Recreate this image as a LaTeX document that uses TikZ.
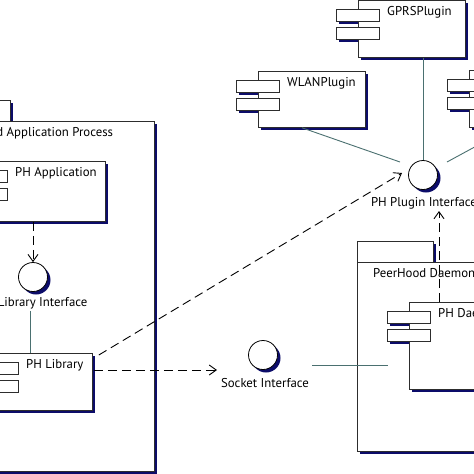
\documentclass[tikz,border=0pt]{standalone}
\usepackage{fontspec}
\setmainfont{PT Sans}
\usetikzlibrary{arrows.meta,shadows,calc}
\definecolor{navyc}{RGB}{12,12,105}
\definecolor{linkc}{RGB}{74,112,112}
\definecolor{edgec}{RGB}{45,45,45}
\tikzset{
  shad/.style={drop shadow={shadow xshift=3pt,shadow yshift=-3pt,fill=navyc,opacity=1}},
  compbox/.style={rectangle,draw=edgec,fill=white,line width=0.8pt,inner sep=0pt,anchor=north west,shad},
  pkgbox/.style={rectangle,draw=edgec,fill=white,line width=0.8pt,inner sep=0pt,anchor=north west,shad},
  portbox/.style={rectangle,draw=edgec,fill=white,line width=0.8pt,inner sep=0pt,anchor=north west,minimum width=43pt,minimum height=12pt},
  iface/.style={circle,draw=black,fill=white,line width=0.8pt,inner sep=0pt,minimum size=29pt,shad},
  lbl/.style={inner sep=0pt,anchor=base west,font=\fontsize{12.8}{15}\selectfont},
  clbl/.style={inner sep=0pt,anchor=base,font=\fontsize{12.8}{15}\selectfont},
  dep/.style={draw=black,line width=0.9pt,dash pattern=on 9pt off 5pt,-{Straight Barb[length=7pt,width=10pt]}},
  link/.style={draw=linkc,line width=0.9pt}
}
\newcommand\phcomp[6]{%
  \fill[navyc] (#2-19,#3+12) rectangle (#2+24,#3+24);
  \fill[navyc] (#2-19,#3+30) rectangle (#2+24,#3+42);
  \node[compbox,minimum width=#4pt,minimum height=#5pt] (#1) at (#2,#3) {};
  \node[portbox] (#1-p1) at (#2-22,#3+9) {};
  \node[portbox] (#1-p2) at (#2-22,#3+27) {};
  \node[lbl] (#1-l) at (#2+29,#3+15) {#6};
}
\newcommand\phpkg[6]{%
  \node[pkgbox,minimum width=76pt,minimum height=21pt] (#1-tab) at (#2,#3) {};
  \node[pkgbox,minimum width=#4pt,minimum height=#5pt] (#1) at (#2,#3+21) {};
  \node[lbl] (#1-l) at (#2+16,#3+36) {#6};
}
\begin{document}
\begin{tikzpicture}[x=1pt,y=-1pt]
\useasboundingbox[fill=white] (0,0) rectangle (474,474);
% packages
\phpkg{apppkg}{-66}{100}{220}{350}{PeerHood Application Process}
\phpkg{dmnpkg}{357}{241}{200}{189}{PeerHood Daemon}
% components
\phcomp{phapp}{-14}{161}{119}{60}{PH Application}
\phcomp{phlib}{-3}{353}{95}{57}{PH Library}
\phcomp{gprs}{358}{0}{107}{57}{GPRSPlugin}
\phcomp{wlan}{258}{71}{107}{56}{WLANPlugin}
\phcomp{third}{469}{70}{107}{57}{}
\phcomp{phd}{409}{302}{120}{87}{PH Daemon}
% interfaces
\node[iface] (libif) at (33,277) {};
\node[clbl] (libif-l) at (33,306) {PH Library Interface};
\node[iface] (plugif) at (423,175) {};
\node[clbl] (plugif-l) at (424,206) {PH Plugin Interface};
\node[iface] (sockif) at (263,355) {};
\node[clbl] (sockif-l) at (265,387) {Socket Interface};
% coordinates for free ends
\coordinate (plugin-in) at (402,173);
\coordinate (wl-end) at (400,162);
\coordinate (th-end) at (447,162);
\coordinate (sock-in) at (217,370);
\coordinate (sock-a) at (312,365);
\coordinate (sock-b) at (388,365);
\coordinate (plug-lbl-in) at (439,211);
% solid links
\draw[link] (plugif |- gprs.south) -- (plugif.north);
\draw[link] ($(wlan.south west)+(44,0)$) -- (wl-end);
\draw[link] ($(third.south west)+(41,0)$) -- (th-end);
\draw[link] (libif.center |- libif-l.south) ++(-3,2) -- ($(libif.center |- phlib.north)+(-3,0)$);
\draw[link] (sock-a) -- (sock-b);
% dependencies
\draw[dep] (libif.north |- phapp.south) -- (libif.north);
\draw[dep] ($(phlib.north east)+(6,2)$) -- (plugin-in);
\draw[dep] ($(phlib.north east)+(1,17)$) -- (sock-in);
\draw[dep] ($(phd.north west)+(30,0)$) -- (plug-lbl-in);
\end{tikzpicture}
\end{document}
